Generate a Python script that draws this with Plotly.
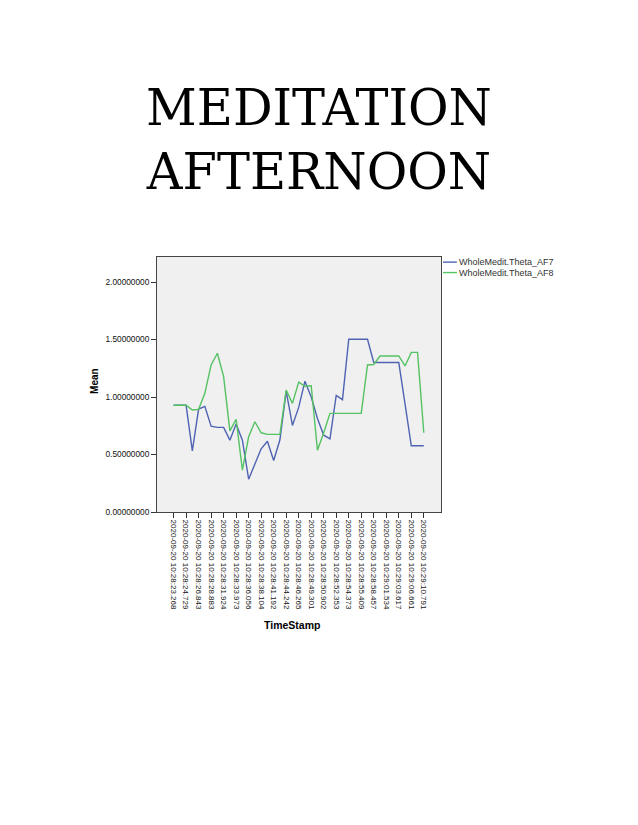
import plotly.graph_objects as go

# Series (mean theta power per timestamp)
af7_mean = [
    0.928, 0.928, 0.928, 0.532, 0.895, 0.919, 0.747, 0.736, 0.736, 0.625,
    0.765, 0.625, 0.285, 0.418, 0.550, 0.616, 0.448, 0.628, 1.052, 0.753,
    0.910, 1.137, 1.000, 0.814, 0.668, 0.637, 1.014, 0.977, 1.503, 1.503,
    1.503, 1.503, 1.300, 1.300, 1.300, 1.300, 1.300, 0.940, 0.576, 0.576,
    0.576,
]
af8_mean = [
    0.928, 0.928, 0.928, 0.887, 0.893, 1.032, 1.279, 1.381, 1.177, 0.706,
    0.806, 0.364, 0.654, 0.785, 0.689, 0.675, 0.675, 0.675, 1.061, 0.945,
    1.130, 1.094, 1.098, 0.538, 0.690, 0.858, 0.858, 0.858, 0.858, 0.858,
    0.858, 1.279, 1.283, 1.357, 1.357, 1.357, 1.357, 1.270, 1.388, 1.388,
    0.689,
]
series_names = ["WholeMedit.Theta_AF7", "WholeMedit.Theta_AF8"]
series_colors = ["#4F63B3", "#55C263"]

# Only every other timestamp is labelled on the axis
tick_labels = [
    "2020-09-20 10:28:23.268", "2020-09-20 10:28:24.729", "2020-09-20 10:28:26.843",
    "2020-09-20 10:28:28.883", "2020-09-20 10:28:31.924", "2020-09-20 10:28:33.973",
    "2020-09-20 10:28:36.056", "2020-09-20 10:28:38.104", "2020-09-20 10:28:41.192",
    "2020-09-20 10:28:44.242", "2020-09-20 10:28:46.265", "2020-09-20 10:28:49.301",
    "2020-09-20 10:28:50.902", "2020-09-20 10:28:52.353", "2020-09-20 10:28:54.373",
    "2020-09-20 10:28:55.409", "2020-09-20 10:28:58.457", "2020-09-20 10:29:01.534",
    "2020-09-20 10:29:03.617", "2020-09-20 10:29:06.661", "2020-09-20 10:29:10.791",
]
y_ticks = [0.0, 0.5, 1.0, 1.5, 2.0]

x_idx = list(range(len(af7_mean)))
tick_pos = x_idx[::2]

fig = go.Figure()
for name, vals, col in zip(series_names, [af7_mean, af8_mean], series_colors):
    fig.add_trace(go.Scatter(
        x=x_idx, y=vals, mode="lines", name=name,
        line=dict(color=col, width=1.4),
        showlegend=False,
    ))

# Small SPSS-style legend to the right of the plot frame
for k, (name, col) in enumerate(zip(series_names, series_colors)):
    yy = 0.980 - k * 0.041
    fig.add_shape(type="line", xref="paper", yref="paper",
                  x0=1.007, x1=1.056, y0=yy, y1=yy,
                  line=dict(color=col, width=1.4))
    fig.add_annotation(text=name, xref="paper", yref="paper",
                       x=1.056, y=yy, xanchor="left", yanchor="middle",
                       showarrow=False,
                       font=dict(family="Liberation Sans", size=9, color="#333333"))

# axis titles
fig.add_annotation(text="<b>Mean</b>", xref="paper", yref="paper",
                   x=-0.2185, y=0.514, textangle=-90,
                   xanchor="center", yanchor="middle", showarrow=False,
                   font=dict(family="Liberation Sans", size=10, color="black"))
fig.add_annotation(text="<b>TimeStamp</b>", xref="paper", yref="paper",
                   x=0.475, y=-0.445,
                   xanchor="center", yanchor="middle", showarrow=False,
                   font=dict(family="Liberation Sans", size=10.5, color="black"))

# page body adds an 8px margin, so the figure is 16px smaller than the window
fig.update_layout(
    width=622, height=809,
    margin=dict(l=149, r=189, t=249, b=305),
    paper_bgcolor="white",
    plot_bgcolor="#F0F0F0",
    title=dict(
        text="MEDITATION<br>AFTERNOON",
        x=0.5, xref="container", xanchor="center",
        y=1 - 117 / 809, yref="container", yanchor="top",
        font=dict(family="DejaVu Serif", size=49.5, color="black"),
    ),
    font=dict(family="Liberation Sans", size=9, color="#111111"),
    xaxis=dict(
        range=[-2.65, 42.75],
        tickvals=tick_pos, ticktext=tick_labels,
        tickangle=90, ticks="outside", ticklen=5, tickcolor="#333333",
        tickfont=dict(size=8),
        showgrid=False, zeroline=False,
        showline=True, linecolor="#444444", linewidth=1, mirror=True,
    ),
    yaxis=dict(
        range=[0, 2.218],
        tickvals=y_ticks, tickformat=".8f",
        ticks="outside", ticklen=5, tickcolor="#333333",
        tickfont=dict(size=8.3),
        showgrid=False, zeroline=False,
        showline=True, linecolor="#444444", linewidth=1, mirror=True,
    ),
)

fig.write_html("out.html")
